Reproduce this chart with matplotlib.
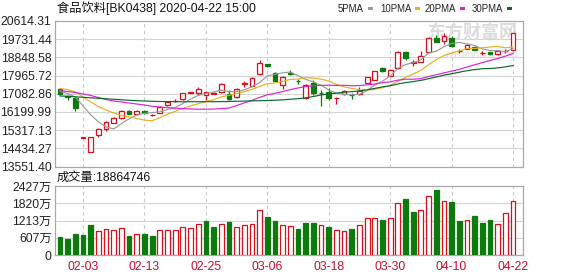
import matplotlib
matplotlib.use("Agg")
import matplotlib.pyplot as plt
from matplotlib.patches import Rectangle
import numpy as np

plt.rcParams['font.family'] = ['Liberation Sans', 'Noto Sans CJK SC', 'DejaVu Sans']

# ---------------- data ----------------
title_text = "食品饮料[BK0438] 2020-04-22 15:00"
vol_label = "成交量:18864746"

opens = [17313, 16974, 16862, 14950, 14241, 15066, 15387, 15678, 15891, 16231,
         16100, 16246, 16037, 16163, 16522, 16717, 16814, 17134, 17134, 17022,
         17085, 17153, 17056, 16911, 17571, 17474, 18027, 18512, 18076, 17508,
         18090, 17726, 16862, 17590, 17125, 17153, 16885, 17056, 17022, 17056,
         17619, 17750, 18318, 17945, 18318, 19095, 18590, 18639, 19124, 19775,
         19658, 19775, 19144, 19255, 19367, 19037, 19095, 18998, 19158, 19207]
closes = [17071, 16925, 16377, 14975, 14965, 15357, 15712, 15891, 16260, 16115,
          16260, 16134, 16066, 16454, 16668, 16746, 17105, 17153, 17314, 17153,
          17105, 17542, 16814, 17314, 17590, 17833, 18590, 18415, 17716, 17911,
          18056, 17702, 17508, 17105, 17112, 16890, 16900, 17231, 16998, 17216,
          17882, 18187, 18170, 18236, 19124, 18804, 18610, 18915, 19804, 19610,
          19886, 19401, 19173, 19449, 19207, 19061, 18998, 19173, 19182, 20017]
highs = [17362, 17022, 16901, 14990, 14984, 15435, 15736, 15930, 16294, 16270,
         16280, 16270, 16100, 16488, 16707, 16804, 17134, 17192, 17396, 17168,
         17144, 17581, 17265, 17338, 17702, 17872, 18721, 18551, 18153, 17945,
         18236, 17799, 17532, 17750, 17265, 17348, 16925, 17265, 17119, 17425,
         17920, 18211, 18381, 18284, 19158, 19134, 18697, 19173, 19838, 19935,
         20017, 19886, 19255, 19474, 19401, 19158, 19110, 19207, 19231, 20041]
lows = [17022, 16780, 16260, 14911, 14231, 14998, 15275, 15663, 15857, 16100,
        16085, 16115, 16003, 16149, 16488, 16683, 16794, 17095, 17022, 16780,
        17047, 17134, 16780, 16891, 17425, 17459, 18008, 18396, 17702, 17299,
        17993, 17556, 16843, 17022, 16488, 16780, 16585, 17022, 16828, 17037,
        17605, 17736, 18150, 17930, 18299, 18721, 18445, 18624, 19110, 19595,
        19498, 19352, 19061, 19241, 19192, 18949, 18978, 18978, 19061, 19192]

ma5 = [17192, 17095, 16925, 16488, 16061, 15717, 15474, 15377, 15634, 15867,
       16047, 16134, 16168, 16207, 16319, 16416, 16610, 16823, 16998, 17095,
       17168, 17255, 17187, 17187, 17275, 17420, 17629, 17949, 18027, 18095,
       18139, 17959, 17780, 17658, 17498, 17265, 17110, 17056, 17032, 17056,
       17250, 17503, 17692, 17940, 18318, 18503, 18590, 18736, 19051, 19148,
       19367, 19522, 19576, 19503, 19425, 19260, 19178, 19178, 19124, 19279]
ma10 = [17338, 17289, 17168, 16925, 16683, 16464, 16294, 16149, 16027, 15964,
        15882, 15804, 15772, 15920, 16090, 16231, 16372, 16498, 16600, 16707,
        16789, 16930, 17005, 17090, 17183, 17294, 17440, 17566, 17607, 17682,
        17780, 17794, 17862, 17843, 17794, 17702, 17537, 17416, 17343, 17275,
        17258, 17306, 17372, 17486, 17687, 17877, 18047, 18216, 18493, 18736,
        18935, 19056, 19158, 19279, 19284, 19313, 19352, 19377, 19313, 19352]
ma20 = [17231, 17192, 17144, 17071, 16998, 16901, 16804, 16731, 16683, 16634,
        16585, 16537, 16474, 16440, 16406, 16382, 16362, 16343, 16333, 16333,
        16338, 16367, 16389, 16508, 16639, 16760, 16906, 17032, 17105, 17192,
        17284, 17362, 17435, 17469, 17488, 17498, 17488, 17493, 17474, 17479,
        17517, 17551, 17619, 17663, 17741, 17789, 17789, 17814, 17920, 18003,
        18095, 18182, 18265, 18381, 18488, 18595, 18697, 18794, 18906, 19042]
ma30 = [16974, 16959, 16935, 16911, 16886, 16862, 16838, 16814, 16789, 16765,
        16746, 16731, 16717, 16707, 16702, 16697, 16697, 16697, 16697, 16697,
        16697, 16702, 16707, 16717, 16726, 16736, 16746, 16755, 16770, 16785,
        16818, 16843, 16882, 16950, 17022, 17076, 17115, 17158, 17183, 17221,
        17275, 17343, 17416, 17474, 17556, 17624, 17673, 17731, 17814, 17896,
        17988, 18051, 18129, 18202, 18255, 18299, 18309, 18338, 18386, 18454]

volumes = [646, 565, 741, 706, 1059, 847, 918, 883, 941, 671,
           741, 741, 671, 883, 883, 883, 1000, 941, 1094, 1212,
           1000, 1094, 1176, 977, 1059, 1094, 1588, 1353, 1212, 1059,
           1035, 918, 1141, 1141, 1059, 988, 883, 847, 918, 1059,
           1294, 1294, 1235, 1294, 1824, 1977, 1530, 1588, 2083, 2271,
           1906, 1847, 1200, 1235, 1377, 1141, 1235, 1094, 1494, 1886.4746]

price_ticks = [13551.40, 14434.27, 15317.13, 16199.99, 17082.86,
               17965.72, 18848.58, 19731.44, 20614.31]
vol_ticks = [0, 607, 1213, 1820, 2427]
vol_tick_labels = ["0", "607万", "1213万", "1820万", "2427万"]
date_idx = [3, 11, 19, 27, 35, 43, 51, 59]
date_labels = ["02-03", "02-13", "02-25", "03-06", "03-18", "03-30", "04-10", "04-22"]
ma_names = ["5PMA", "10PMA", "20PMA", "30PMA"]

# ---------------- style ----------------
RED = "#d8101c"
GREEN = "#0d7a0d"
MA_COLORS = ["#9a9a9a", "#e8b020", "#e020d8", "#0a6a2a"]
GRID = "#d4d4d4"
BORDER = "#a8a8a8"

W, H = 578, 276
fig = plt.figure(figsize=(W / 100, H / 100), dpi=100)

def rect(l, t, r, b):
    return [l / W, 1 - b / H, (r - l) / W, (b - t) / H]

axp = fig.add_axes(rect(55, 21, 523, 166.5))
axv = fig.add_axes(rect(55, 186, 523, 255))

n = len(closes)
x = np.arange(n)
xlim = (-0.65, n - 1 + 1.3)

for ax in (axp, axv):
    ax.set_xlim(*xlim)
    for s in ax.spines.values():
        s.set_color(BORDER)
        s.set_linewidth(0.9)
    ax.tick_params(axis='both', length=0, colors="#222222", labelsize=8.8, pad=2.5)
    for d in date_idx:
        ax.axvline(d, color="#c8c8c8", lw=0.8, ls=(0, (3, 3)), zorder=0)

# price panel
axp.set_ylim(price_ticks[0], price_ticks[-1])
axp.set_yticks(price_ticks)
axp.set_yticklabels([f"{v:.2f}" for v in price_ticks])
for v in price_ticks[1:-1]:
    axp.axhline(v, color=GRID, lw=0.8, zorder=0)
axp.set_xticks([])

# watermark
axp.text(0.99, 0.985, "东方财富网", transform=axp.transAxes, ha='right', va='top',
         fontsize=13, color="#dcdcdc", family=['Noto Sans CJK SC'], zorder=1,
         fontweight='bold')
axp.text(0.99, 0.80, "eastmoney.com", transform=axp.transAxes, ha='right', va='top',
         fontsize=7.5, color="#dedede", zorder=1)

bw = 0.62
for i in range(n):
    o, c, h, l = opens[i], closes[i], highs[i], lows[i]
    up = c >= o
    col = RED if up else GREEN
    axp.plot([i, i], [l, h], color=col, lw=0.9, zorder=3, solid_capstyle='butt')
    lo_, hi_ = min(o, c), max(o, c)
    axp.bar(i, max(hi_ - lo_, 1.0), bottom=lo_, width=bw,
            facecolor="white" if up else GREEN, edgecolor=col, linewidth=0.9, zorder=4)

for vals, col in zip([ma5, ma10, ma20, ma30], MA_COLORS):
    axp.plot(x, vals, color=col, lw=0.85, zorder=5)

# volume panel
axv.set_ylim(0, vol_ticks[-1])
axv.set_yticks(vol_ticks)
axv.set_yticklabels(vol_tick_labels)
for v in vol_ticks[1:-1]:
    axv.axhline(v, color=GRID, lw=0.8, zorder=0)
for i in range(n):
    prev = closes[i - 1] if i > 0 else opens[0]
    up = closes[i] > prev
    col = RED if up else GREEN
    axv.bar(i, volumes[i], width=bw, facecolor="white" if up else GREEN,
            edgecolor=col, linewidth=0.9, zorder=3)
axv.set_xticks(date_idx)
axv.set_xticklabels(date_labels, color="#c0102a", fontsize=8.8)
axv.tick_params(axis='x', pad=4)

# header texts
fig.text(57 / W, 1 - 8.5 / H, title_text, ha='left', va='center', fontsize=8.8,
         color="#111111")
fig.text(57 / W, 1 - 178 / H, vol_label, ha='left', va='center', fontsize=8.8,
         color="#111111")

# MA legend
leg_x = [338, 380, 425, 472]
leg_texts = []
for name, lx in zip(ma_names, leg_x):
    leg_texts.append(fig.text(lx / W, 1 - 8.5 / H, name, ha='left', va='center',
                              fontsize=6.9, color="#222222"))
fig.canvas.draw()
rend = fig.canvas.get_renderer()
for txt, col in zip(leg_texts, MA_COLORS):
    bb = txt.get_window_extent(rend)
    px = bb.x1 + 4
    py = bb.y0 + bb.height / 2
    fig.patches.append(Rectangle((px / W, (py - 1.5) / H), 5 / W, 3 / H,
                                 transform=fig.transFigure, facecolor=col,
                                 edgecolor='none'))

fig.savefig("out.png", dpi=100)
